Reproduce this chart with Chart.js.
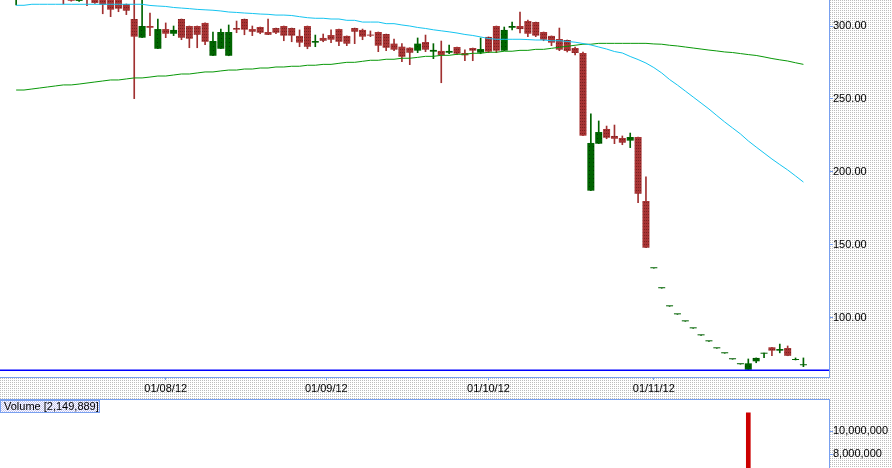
<!DOCTYPE html>
<html>
<head>
<meta charset="utf-8">
<script src="https://cdn.jsdelivr.net/npm/chart.js@4.4.1/dist/chart.umd.min.js"></script>
<style>
html,body{margin:0;padding:0;background:#fff;overflow:hidden}
#wrap{position:relative;width:892px;height:468px;overflow:hidden}
#c1{position:absolute;left:0;top:0}
#c2{position:absolute;left:0;top:400px}
#vol{position:absolute;left:0;top:400px;width:100px;height:13px;box-sizing:border-box;border:1px solid #78a0f0;
  background-image:repeating-conic-gradient(#c4c4ee 0 25%, #ffffff 0 50%);background-size:2px 2px;
  font:11px "Liberation Sans", Arial, sans-serif;line-height:11px;padding-left:3px;color:#000;white-space:nowrap}
</style>
</head>
<body>
<div id="wrap">
<canvas id="c1" width="892" height="400"></canvas>
<canvas id="c2" width="892" height="68"></canvas>
<div id="vol">Volume [2,149,889]</div>
</div>
<script>
// ---- data ----
const priceTicks = [100, 150, 200, 250, 300];
const dateTickPos = [19, 39.4, 60, 81];
const dateTickLabels = ['01/08/12', '01/09/12', '01/10/12', '01/11/12'];
const volTicks = [8000000, 10000000];

const open = [319,323,325,322,324,321,321,320,317.2,321,319.5,318.5,319,318.5,315.1,304.8,292.0,300.0,284.4,297.9,
294.7,304.8,300.0,300.0,302.1,279.6,284.4,279.6,298.6,304.8,297.9,299.3,295.9,298.6,300.0,298.6,293.2,300.0,288.6,291.8,
293.8,297.9,293.2,298.6,297.3,294.0,295.9,294.5,287.9,285.8,285.1,283.1,289.0,282.4,282.9,281.7,285.6,281.5,284.9,281.7,
292.5,300.0,283.1,298.8,300.0,303.4,302.7,295.9,293.2,291.1,290.4,284.9,281.5,187.1,219.3,229.4,224.6,223.2,221.4,223.9,
180.0,133.9,120.2,107.8,102.3,97.5,92.7,87.9,83.8,79.0,75.6,71.5,68.1,64.3,70.1,75.3,79.7,77.4,79.2,71.0,67.4];
const high = [325,327,328,326,327,324,323,322,321,322,321,320,320.5,320,315.1,320,320,308.9,304.8,302.1,
300.0,304.8,300.0,300.0,302.1,295.9,297.9,300.7,303.4,304.8,300.0,299.3,304.8,298.6,300.0,298.6,297.3,300.0,293.8,294.5,
297.3,297.9,293.2,298.6,297.9,296.6,295.9,294.5,291.1,287.9,285.1,291.8,293.8,287.9,289.7,287.0,285.6,283.6,284.9,291.8,
292.5,300.0,299.3,302.7,309.6,304.1,302.7,295.9,293.2,298.6,290.4,285.6,282.2,239.7,234.9,231.4,232.1,224.6,226.6,223.9,
196.5,133.9,120.2,107.8,102.3,97.5,92.7,87.9,83.8,79.0,75.6,71.5,68.1,71.7,72.4,75.8,79.7,81.9,80.6,72.4,72.4];
const low = [314.4,320,321,319.5,320,318.5,315.1,317.0,316.9,313.9,315.4,308.4,306.4,309.8,307.8,250.2,292.0,293.4,284.4,292.0,
293.4,290.6,285.1,285.1,287.2,279.6,284.4,279.6,295.4,294.0,293.4,294.7,294.0,294.7,289.9,289.2,285.8,284.4,285.8,289.2,
288.6,286.5,286.5,287.9,290.6,292.7,282.4,283.1,283.1,275.5,273.5,281.7,282.4,277.6,261.1,281.0,280.3,276.2,276.2,281.0,
281.7,281.7,283.1,297.3,295.2,292.7,292.7,289.9,286.5,283.1,282.2,280.1,224.8,187.1,219.3,222.7,219.3,218.6,216.6,178.8,
148.0,133.9,120.2,107.8,102.3,97.5,92.7,87.9,83.8,79.0,75.6,71.5,68.1,64.3,69.1,72.6,73.9,75.9,73.9,71.0,66.4];
const close = [323,325,322,324,321,322,318.5,317.3,319,318.2,315.8,314.6,311.2,311.9,310.5,292.7,300.0,298.8,297.9,294.7,
297.3,292.0,291.3,294.0,289.2,289.7,295.9,295.9,297.5,297.5,296.1,295.4,294.0,295.4,293.4,293.4,288.6,285.8,289.7,289.9,
290.6,289.2,287.9,296.1,292.7,293.4,286.5,285.1,283.8,278.9,281.7,287.9,283.8,283.6,279.9,282.9,281.0,279.9,283.1,284.2,
282.4,283.1,297.3,300.0,297.9,294.7,293.4,290.6,288.6,283.8,282.9,281.5,224.8,219.8,227.3,223.4,222.7,220.0,223.9,185.0,
148.0,133.9,120.2,107.8,102.3,97.5,92.7,87.9,83.8,79.0,75.6,71.5,68.1,68.7,72.4,75.8,77.4,78.5,73.9,71.0,67.4];

const maShort = [314.2,314.2,314.9,314.9,314.9,314.9,314.9,314.9,314.9,314.9,314.9,314.9,314.9,314.9,314.9,314.9,314.9,314.1,313.7,313.4,
312.7,312.3,311.9,311.4,311.1,310.8,310.3,309.6,309.3,308.9,308.6,308.2,308.0,307.5,307.5,307.2,306.4,305.7,305.3,305.3,
304.8,304.8,303.9,303.9,302.7,302.7,302.7,301.6,301.6,300.7,300.0,299.0,298.3,297.4,296.7,296.0,295.2,294.2,293.5,292.5,
291.4,290.9,290.9,290.9,290.9,290.7,290.4,290.4,289.9,289.9,289.4,288.9,288.0,287.0,285.6,284.2,282.5,281.5,279.1,277.0,
274.6,271.5,267.8,263.3,259.5,255.4,251.3,247.2,243.1,238.6,234.2,230.1,226.0,221.2,217.0,212.9,208.8,205.0,201.3,197.2,193.0];
const maLong = [256.1,256.1,256.8,257.5,258.2,258.9,259.6,259.6,260.2,260.9,261.6,262.3,263.0,263.0,263.7,264.4,264.4,265.0,265.7,265.7,
266.4,267.1,267.1,267.8,268.5,268.5,269.2,269.8,269.8,270.5,270.5,271.2,271.2,271.9,271.9,272.4,272.4,273.1,273.1,273.7,
273.7,274.4,275.1,275.1,275.8,276.5,276.5,277.2,277.2,277.9,277.9,278.5,279.2,279.2,279.9,279.9,280.6,280.6,281.3,281.3,
282.0,282.0,282.7,282.7,283.3,283.3,284.0,284.0,284.7,285.4,286.1,286.8,287.5,287.5,288.1,288.1,288.1,288.1,288.1,288.1,
288.1,287.7,287.5,286.8,286.3,285.6,284.9,284.2,283.5,282.9,282.2,281.8,281.1,280.4,279.8,278.8,277.7,276.8,276.0,274.8,273.7];
const volume = [1650000,1420000,1880000,1310000,1560000,1240000,1730000,1390000,1120000,1950000,1480000,2230000,2610000,1870000,2040000,4520000,3110000,2240000,2870000,1690000,
1520000,2380000,2010000,1760000,1930000,2650000,2110000,2480000,1350000,1840000,1270000,1160000,1580000,1220000,1690000,1410000,1970000,2360000,1280000,1150000,
1330000,1720000,1490000,1860000,1540000,1090000,2270000,2060000,1610000,2430000,1980000,1750000,1820000,1260000,2890000,1370000,1530000,1440000,1190000,1680000,
1910000,2550000,2980000,1470000,1830000,2140000,1960000,1620000,1580000,2070000,1880000,1720000,6250000,5830000,3420000,2610000,2180000,1940000,2330000,5460000,
4910000,310000,240000,280000,220000,260000,190000,230000,270000,210000,250000,330000,420000,11570000,6120000,3240000,2830000,2510000,2940000,1820000,2149889];

const lowLine = 64.0;
const xRange = [-2.05, 103.25];
const priceRange = [59.33, 317.83];
const volRange = [6783000, 12696000];

// ---- styles ----
const AXIS = '#78a0f0';
const FONT = {family: "'Liberation Sans', Arial, sans-serif", size: 11};
function pat(w, h, base, dot, pts) {
  const c = document.createElement('canvas'); c.width = w; c.height = h;
  const g = c.getContext('2d');
  g.fillStyle = base; g.fillRect(0, 0, w, h);
  g.fillStyle = dot; pts.forEach(p => g.fillRect(p[0], p[1], 1, 1));
  return g.createPattern(c, 'repeat');
}
const axisPat = pat(2, 2, '#ffffff', '#bdbdbd', [[0, 0]]);
const redPat = pat(2, 3, '#a83434', '#7a2020', [[0, 1]]);
const greenPat = pat(4, 4, '#006400', '#003a00', [[1, 2]]);
const idx = close.map((_, i) => i);
const isUp = i => close[i] >= open[i];

const bgPlugin = {
  id: 'bgPlug',
  beforeDraw(chart, args, opts) {
    const {ctx, chartArea: a, width, height} = chart;
    ctx.save();
    ctx.fillStyle = '#ffffff'; ctx.fillRect(0, 0, width, height);
    ctx.fillStyle = axisPat;
    ctx.fillRect(a.right, 0, width - a.right, height);
    if (opts.band) {
      ctx.fillRect(0, a.bottom, a.right, height - a.bottom);
      ctx.strokeStyle = AXIS; ctx.lineWidth = 1;
      ctx.beginPath(); ctx.moveTo(0, height - 0.5); ctx.lineTo(a.right + 1, height - 0.5); ctx.stroke();
    }
    ctx.restore();
  }
};

// ---- price chart ----
new Chart(document.getElementById('c1'), {
  type: 'bar',
  data: {
    datasets: [
      {type: 'line', data: [{x: xRange[0], y: lowLine}, {x: xRange[1], y: lowLine}], borderColor: '#0000ff', borderWidth: 1.5, pointRadius: 0, order: 0},
      {type: 'line', data: idx.map(i => ({x: i, y: maShort[i]})), borderColor: '#14c4f0', borderWidth: 1, pointRadius: 0, tension: 0, order: 0},
      {type: 'line', data: idx.map(i => ({x: i, y: maLong[i]})), borderColor: '#089808', borderWidth: 1, pointRadius: 0, tension: 0, order: 0},
      {data: idx.map(i => ({x: i, y: [Math.min(open[i], close[i]), Math.max(open[i], close[i])]})),
       backgroundColor: c => isUp(c.dataIndex) ? greenPat : redPat,
       categoryPercentage: 1, barPercentage: 0.89, minBarLength: 1, grouped: false, borderWidth: 0, order: 1},
      {data: idx.map(i => ({x: i, y: [low[i], high[i]]})),
       backgroundColor: c => isUp(c.dataIndex) ? '#006400' : '#a03030',
       barThickness: 1, grouped: false, borderWidth: 0, order: 2}
    ]
  },
  options: {
    responsive: false, animation: false, devicePixelRatio: 1, events: [],
    layout: {padding: 0},
    plugins: {legend: {display: false}, tooltip: {enabled: false}, bgPlug: {band: true}},
    scales: {
      x: {
        type: 'linear', min: xRange[0], max: xRange[1], offset: false,
        grid: {drawOnChartArea: false, drawTicks: true, tickLength: 3, color: AXIS, tickColor: AXIS, offset: false},
        border: {display: true, color: AXIS, width: 1},
        ticks: {autoSkip: false, maxRotation: 0, minRotation: 0, padding: 2, color: '#000', font: FONT,
                callback: (v, i) => dateTickLabels[i]},
        afterBuildTicks: s => { s.ticks = dateTickPos.map(v => ({value: v})); },
        afterFit: s => { s.height = 23; s.paddingLeft = 0; s.paddingRight = 0; }
      },
      y: {
        position: 'right', min: priceRange[0], max: priceRange[1],
        grid: {drawOnChartArea: false, tickLength: 4, color: AXIS, tickColor: AXIS},
        border: {display: true, color: AXIS, width: 1},
        ticks: {padding: 0, color: '#000', font: FONT, callback: v => Number(v).toFixed(2)},
        afterBuildTicks: s => { s.ticks = priceTicks.map(v => ({value: v})); },
        afterFit: s => { s.width = 63; s.paddingTop = 0; s.paddingBottom = 0; }
      }
    }
  },
  plugins: [bgPlugin]
});

// ---- volume chart ----
new Chart(document.getElementById('c2'), {
  type: 'bar',
  data: {
    datasets: [{data: idx.map(i => ({x: i, y: volume[i]})), backgroundColor: '#cc0000', barThickness: 4, grouped: false, borderWidth: 0}]
  },
  options: {
    responsive: false, animation: false, devicePixelRatio: 1, events: [],
    layout: {padding: 0},
    plugins: {legend: {display: false}, tooltip: {enabled: false}, bgPlug: {band: false}},
    scales: {
      x: {type: 'linear', min: xRange[0], max: xRange[1], offset: false, display: false},
      y: {
        position: 'right', min: volRange[0], max: volRange[1],
        grid: {drawOnChartArea: false, tickLength: 4, color: AXIS, tickColor: AXIS},
        border: {display: true, color: AXIS, width: 1},
        ticks: {padding: 0, color: '#000', font: FONT, callback: v => Number(v).toLocaleString('en-US')},
        afterBuildTicks: s => { s.ticks = volTicks.map(v => ({value: v})); },
        afterFit: s => { s.width = 63; s.paddingTop = 0; s.paddingBottom = 0; }
      }
    }
  },
  plugins: [bgPlugin]
});
</script>
</body>
</html>
